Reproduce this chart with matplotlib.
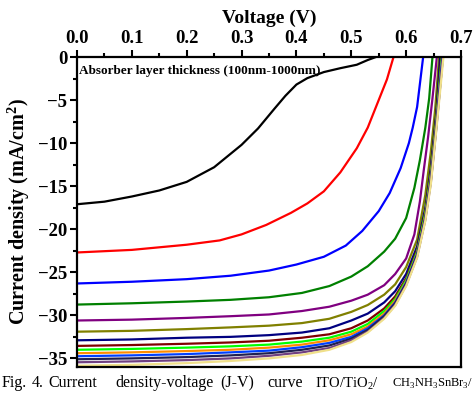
import matplotlib
matplotlib.use('Agg')
import matplotlib.pyplot as plt
from matplotlib.ticker import MultipleLocator

plt.rcParams['font.family'] = ['Liberation Serif', 'DejaVu Serif']
plt.rcParams['mathtext.fontset'] = 'custom'
plt.rcParams['mathtext.rm'] = 'Liberation Serif'
plt.rcParams['mathtext.bf'] = 'Liberation Serif:bold'

# J-V curves, thinnest absorber (top) to thickest (bottom)
v_grid = [0, 0.10, 0.20, 0.28, 0.35, 0.41, 0.46, 0.50, 0.53, 0.56, 0.58, 0.60, 0.62, 0.635, 0.645, 0.655]
voltages = [
    [0, 0.05, 0.10, 0.15, 0.20, 0.25, 0.30, 0.33, 0.36, 0.38, 0.40, 0.42, 0.45, 0.48, 0.51, 0.53, 0.545],
    [0, 0.10, 0.20, 0.26, 0.30, 0.345, 0.39, 0.42, 0.45, 0.48, 0.51, 0.53, 0.55, 0.565, 0.577],
    [0, 0.10, 0.20, 0.28, 0.35, 0.40, 0.45, 0.49, 0.52, 0.55, 0.57, 0.59, 0.605, 0.612, 0.62, 0.631],
    [0, 0.10, 0.20, 0.28, 0.35, 0.41, 0.46, 0.50, 0.53, 0.56, 0.58, 0.60, 0.615, 0.625, 0.635, 0.642, 0.648],
    [0, 0.10, 0.20, 0.28, 0.35, 0.41, 0.46, 0.50, 0.53, 0.56, 0.58, 0.60, 0.615, 0.625, 0.632, 0.64, 0.648, 0.656],
    v_grid[:-1] + [0.653, 0.660],
    v_grid + [0.662],
    v_grid + [0.664],
    v_grid + [0.665],
    v_grid + [0.666],
    v_grid + [0.666],
    v_grid + [0.667],
    v_grid + [0.667],
    v_grid + [0.668],
]
currents = [
    [-17.1, -16.8, -16.2, -15.5, -14.5, -12.8, -10.2, -8.3, -6.0, -4.5, -3.2, -2.45, -1.75, -1.3, -0.9, -0.35, 0],
    [-22.7, -22.4, -21.8, -21.3, -20.6, -19.5, -18.1, -17.0, -15.6, -13.4, -10.6, -8.2, -5.0, -2.6, 0],
    [-26.3, -26.1, -25.8, -25.4, -24.8, -24.1, -23.2, -21.9, -20.2, -17.9, -15.8, -12.9, -10.0, -8.2, -5.8, 0],
    [-28.75, -28.6, -28.4, -28.2, -27.9, -27.4, -26.6, -25.5, -24.3, -22.6, -21.1, -18.7, -15.2, -12.0, -8.2, -4.8, 0],
    [-30.6, -30.5, -30.3, -30.1, -29.9, -29.5, -29.0, -28.3, -27.6, -26.5, -25.2, -23.4, -20.6, -16.8, -13.2, -9.3, -4.8, 0],
    [-31.9, -31.8, -31.6, -31.4, -31.2, -30.9, -30.4, -29.6, -28.8, -27.6, -26.4, -24.4, -21.2, -16.0, -11.0, -6.0, 0],
    [-32.9, -32.8, -32.6, -32.5, -32.3, -32.0, -31.5, -30.6, -29.8, -28.5, -27.2, -25.2, -22.0, -17.5, -12.8, -6.5, 0],
    [-33.55, -33.45, -33.3, -33.15, -32.95, -32.6, -32.2, -31.5, -30.6, -29.2, -27.8, -25.7, -22.4, -17.9, -13.3, -7.0, 0],
    [-34.0, -33.9, -33.75, -33.6, -33.4, -33.05, -32.6, -31.9, -31.0, -29.5, -28.1, -25.9, -22.6, -18.1, -13.6, -7.3, 0],
    [-34.4, -34.3, -34.15, -34.0, -33.75, -33.4, -32.9, -32.2, -31.3, -29.8, -28.3, -26.1, -22.8, -18.4, -13.9, -7.6, 0],
    [-34.75, -34.65, -34.5, -34.3, -34.1, -33.7, -33.2, -32.5, -31.5, -30.0, -28.5, -26.2, -22.9, -18.6, -14.2, -7.9, 0],
    [-35.1, -35.0, -34.85, -34.65, -34.4, -34.0, -33.5, -32.7, -31.7, -30.1, -28.6, -26.3, -23.0, -18.7, -14.4, -8.1, 0],
    [-35.45, -35.35, -35.2, -35.0, -34.7, -34.3, -33.8, -32.9, -31.9, -30.3, -28.8, -26.5, -23.2, -18.9, -14.6, -8.3, 0],
    [-35.85, -35.75, -35.55, -35.3, -35.0, -34.6, -34.0, -33.1, -32.0, -30.4, -28.9, -26.6, -23.3, -19.0, -14.8, -8.5, 0],
]
colors = ['black', '#ff0000', '#0000ff', '#008000', '#800080', '#808000', '#000080',
          '#800000', '#00ff00', '#ff8c00', '#0040ff', '#202050', '#704080', '#f0e08a']

caption_words = ['Fig.', '4.', 'Current', 'density-voltage', '(J-V)', 'curve',
                 'ITO/TiO$_2$/', 'CH$_3$NH$_3$SnBr$_3$/']
caption_x = [2, 32, 48, 115, 220, 267, 315, 473]
caption_size = [11.5, 11.5, 11.5, 11.5, 11.5, 11.5, 10.5, 9]

fig = plt.figure(figsize=(4.74, 3.94), dpi=100)
ax = fig.add_axes([77 / 474, 1 - 367 / 394, 384 / 474, 310 / 394])

for v, j, c in zip(voltages, currents, colors):
    ax.plot(v, j, color=c, lw=1.6, solid_capstyle='round', solid_joinstyle='round')

ax.set_xlim(0, 0.7)
ax.set_ylim(-36, 0)
ax.xaxis.set_major_locator(MultipleLocator(0.1))
ax.xaxis.set_minor_locator(MultipleLocator(0.05))
ax.yaxis.set_major_locator(MultipleLocator(5))
ax.yaxis.set_minor_locator(MultipleLocator(2.5))
ax.xaxis.tick_top()
ax.xaxis.set_label_position('top')
ax.tick_params(axis='x', which='both', bottom=False, top=True, labelbottom=False, labeltop=True)
ax.tick_params(axis='y', which='both', right=False)
ax.tick_params(which='major', length=5, width=1.5, labelsize=13.5, pad=2)
ax.tick_params(which='minor', length=3, width=1.5)
ax.set_xticks(ax.get_xticks())
ax.set_xticklabels([f'{t:.1f}' for t in ax.get_xticks()], fontweight='bold')
ax.set_yticks(ax.get_yticks())
ax.set_yticklabels(['0' if t == 0 else '\u2212' + f'{abs(t):g}' for t in ax.get_yticks()],
                   fontweight='bold')
ax.set_xlim(0, 0.7)
ax.set_ylim(-36, 0)
for s in ax.spines.values():
    s.set_linewidth(1.6)

ax.set_xlabel('Voltage (V)', fontsize=14, fontweight='bold', labelpad=5)
ax.set_ylabel(r'Current density (mA/cm$^{\mathbf{2}}$)', fontsize=14.5, fontweight='bold', labelpad=4)

ax.text(0.003, -1.6, 'Absorber layer thickness (100nm-1000nm)', fontsize=9.5,
        fontweight='bold', va='center', ha='left')

for i, (w, x, fs) in enumerate(zip(caption_words, caption_x, caption_size)):
    last = i == len(caption_words) - 1
    fig.text(x / 474, 1 - 387 / 394, w, fontsize=fs,
             ha='right' if last else 'left', va='baseline')

fig.savefig('out.png', dpi=100)
